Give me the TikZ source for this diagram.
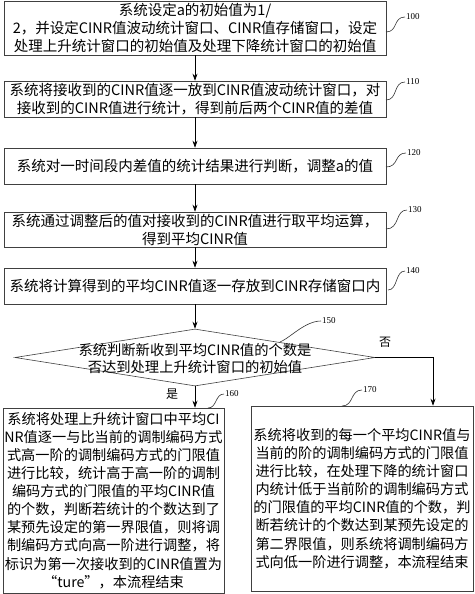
\documentclass[tikz,border=0pt]{standalone}
\usepackage{fontspec}
\newfontfamily\cjk{Noto Sans CJK SC}
\newfontfamily\numfont{Liberation Serif}
\usetikzlibrary{arrows.meta,shapes.geometric}
\begin{document}
\begin{tikzpicture}[x=1pt,y=-1pt,
  box/.style={draw=black!75, line width=0.6pt, inner sep=0pt, align=center, minimum width=382pt,
    font=\cjk\fontsize{14.5}{18}\selectfont},
  lowbox/.style={draw=black!75, line width=0.6pt, inner sep=0pt, align=center,
    font=\cjk\fontsize{14.2}{18.1}\selectfont},
  arr/.style={draw=black, line width=0.7pt, -{Stealth[length=7pt,width=5pt]}},
  sq/.style={draw=black!80, line width=0.6pt},
  lbl/.style={anchor=west, inner sep=1pt, font=\numfont\fontsize{9}{10}\selectfont},
  yn/.style={inner sep=0pt, font=\cjk\fontsize{12}{12}\selectfont}]
\useasboundingbox (0,0) rectangle (474,594);

\node[box, minimum height=54pt] (b100) at (195,28) {系统设定a的初始值为1/\\2，并设定CINR值波动统计窗口、CINR值存储窗口，设定\\处理上升统计窗口的初始值及处理下降统计窗口的初始值};
\node[box, minimum height=36pt] (b110) at (195,99) {系统将接收到的CINR值逐一放到CINR值波动统计窗口，对\\接收到的CINR值进行统计，得到前后两个CINR值的差值};
\node[box, minimum height=36pt] (b120) at (195,166) {系统对一时间段内差值的统计结果进行判断，调整a的值};
\node[box, minimum height=35pt] (b130) at (195,229.5) {系统通过调整后的值对接收到的CINR值进行取平均运算，\\得到平均CINR值};
\node[box, minimum height=36pt] (b140) at (195,286) {系统将计算得到的平均CINR值逐一存放到CINR存储窗口内};

\node[draw=black!75, line width=0.6pt, diamond, inner sep=0pt, minimum width=360pt, minimum height=57pt] (d150) at (195,357.5) {};
\node[inner sep=0pt, align=center, font=\cjk\fontsize{14.3}{17.5}\selectfont] (t150) at (195,358.5) {系统判断新收到平均CINR值的个数是\\否达到处理上升统计窗口的初始值};

\node[lowbox, minimum width=221pt, minimum height=185pt] (b160) at (113.5,500.5) {系统将处理上升统计窗口中平均CI\\NR值逐一与比当前的调制编码方式\\式高一阶的调制编码方式的门限值\\进行比较，统计高于高一阶的调制\\编码方式的门限值的平均CINR值\\的个数，判断若统计的个数达到了\\某预先设定的第一界限值，则将调\\制编码方式向高一阶进行调整，将\\标识为第一次接收到的CINR值置为\\“ture”，本流程结束};
\node[lowbox, minimum width=222pt, minimum height=185pt] (b170) at (362,498.5) {系统将收到的每一个平均CINR值与\\当前的阶的调制编码方式的门限值\\进行比较，在处理下降的统计窗口\\内统计低于当前阶的调制编码方式\\的门限值的平均CINR值的个数，判\\断若统计的个数达到某预先设定的\\第二界限值，则系统将调制编码方\\式向低一阶进行调整，本流程结束};

% connectors
\draw[arr] (b100.south) -- (b110.north);
\draw[arr] (b110.south) -- (b120.north);
\draw[arr] (b120.south) -- (b130.north);
\draw[arr] (b130.south) -- (b140.north);
\draw[arr] (b140.south) -- (d150.north);
\draw[arr] (d150.south) -- (d150.south |- b160.north);
\draw[arr] (d150.east) -| ([xshift=71pt]b170.north);

\node[yn] (no) at (385,342) {否};
\node[yn] (yes) at (172,394) {是};

% reference labels
\node[lbl] (l100) at (405,17) {100};
\node[lbl] (l110) at (405,82) {110};
\node[lbl] (l120) at (406,153) {120};
\node[lbl] (l130) at (407,210) {130};
\node[lbl] (l140) at (405,271) {140};
\node[lbl] (l150) at (321,321) {150};
\node[lbl] (l160) at (224,394) {160};
\node[lbl] (l170) at (362,390) {170};

\coordinate (c100) at (386,32);
\coordinate (c110) at (386,100);
\coordinate (c120) at (386,167);
\coordinate (c130) at (386,229);
\coordinate (c140) at (388,290);
\coordinate (c150) at (280,342);
\coordinate (c160) at (208,408);
\coordinate (c170) at (342,406);

\draw[sq] (c100) .. controls +(12,0) and +(-12,0) .. (l100.west);
\draw[sq] (c110) .. controls +(12,0) and +(-12,0) .. (l110.west);
\draw[sq] (c120) .. controls +(13,0) and +(-12,0) .. (l120.west);
\draw[sq] (c130) .. controls +(14,0) and +(-12,0) .. (l130.west);
\draw[sq] (c140) .. controls +(10,0) and +(-10,0) .. (l140.west);
\draw[sq] (c150) .. controls +(10,-4) and +(-16,0) .. (l150.west);
\draw[sq] (c160) .. controls +(9,0) and +(-9,0) .. (l160.west);
\draw[sq] (c170) .. controls +(12,0) and +(-12,0) .. (l170.west);
\end{tikzpicture}
\end{document}
